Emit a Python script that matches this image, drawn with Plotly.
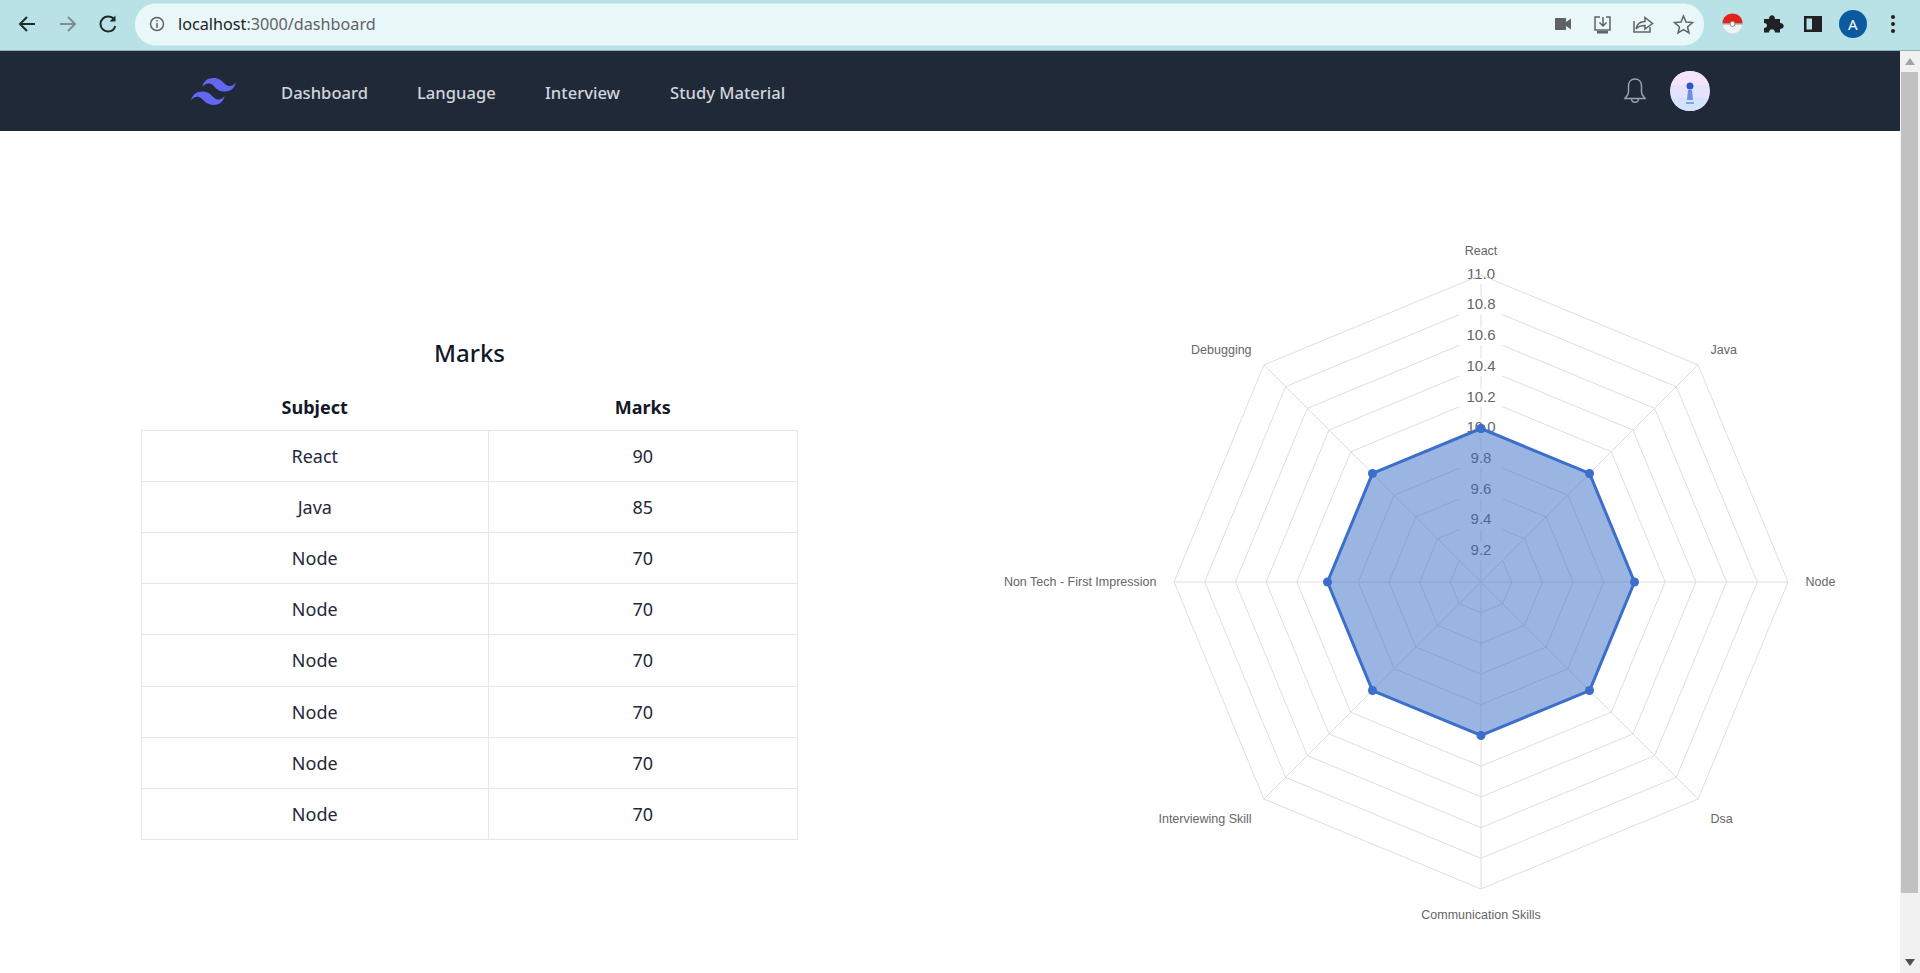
import re
import plotly.graph_objects as go

W = 1920
H = 973

subjects = ["React", "Java", "Node", "Node", "Node", "Node", "Node", "Node"]
marks = [90, 85, 70, 70, 70, 70, 70, 70]

radar_labels = ["React", "Java", "Node", "Dsa", "Communication Skills", "Interviewing Skill",
                "Non Tech - First Impression", "Debugging"]
radar_values = [10, 10, 10, 10, 10, 10, 10, 10]
radar_ticks = [9.2, 9.4, 9.6, 9.8, 10.0, 10.2, 10.4, 10.6, 10.8, 11.0]

nav_items = ["Dashboard", "Language", "Interview", "Study Material"]
nav_x = [324.5, 456.5, 582.5, 727]

TAILWIND = ("M27 0c-7.2 0-11.7 3.6-13.5 10.8 2.7-3.6 5.85-4.95 9.45-4.05 2.054.513 3.522 2.004 5.147 3.653"
            "C30.744 13.09 33.808 16.2 40.5 16.2c7.2 0 11.7-3.6 13.5-10.8-2.7 3.6-5.85 4.95-9.45 4.05"
            "-2.054-.513-3.522-2.004-5.147-3.653C36.756 3.11 33.692 0 27 0z"
            "M13.5 16.2C6.3 16.2 1.8 19.8 0 27c2.7-3.6 5.85-4.95 9.45-4.05 2.054.514 3.522 2.004 5.147 3.653"
            "C17.244 29.29 20.308 32.4 27 32.4c7.2 0 11.7-3.6 13.5-10.8-2.7 3.6-5.85 4.95-9.45 4.05"
            "-2.054-.513-3.522-2.004-5.147-3.653C23.256 19.31 20.192 16.2 13.5 16.2z")


def px(x):
    return x / W


def py(y):
    return 1 - y / H


# shapes use paper coords, so turn screen-pixel svg paths into paper fractions
def svg_path(d, ox=0, oy=0, s=1):
    toks = re.findall(r"[MmLlHhVvCcZz]|-?\d*\.?\d+", d)
    out = []
    cx = cy = 0
    i = 0
    cmd = None
    while i < len(toks):
        if toks[i].isalpha():
            cmd = toks[i]
            i += 1
            if cmd in "Zz":
                out.append("Z")
                continue
        low = cmd.lower()
        rel = cmd.islower()
        if low == "h":
            cx = float(toks[i]) + (cx if rel else 0)
            i += 1
            pts = [(cx, cy)]
            letter = "L"
        elif low == "v":
            cy = float(toks[i]) + (cy if rel else 0)
            i += 1
            pts = [(cx, cy)]
            letter = "L"
        else:
            n = 3 if low == "c" else 1
            pts = []
            for _ in range(n):
                a = float(toks[i]) + (cx if rel else 0)
                b = float(toks[i + 1]) + (cy if rel else 0)
                pts.append((a, b))
                i += 2
            cx, cy = pts[-1]
            letter = low.upper()
        coords = " ".join(f"{px(ox + a * s):.5f},{py(oy + b * s):.5f}" for a, b in pts)
        out.append(f"{letter} {coords}")
    return " ".join(out)


shapes = []


def rect(x0, y0, x1, y1, fill):
    shapes.append(dict(type="rect", xref="paper", yref="paper", x0=px(x0), x1=px(x1), y0=py(y0), y1=py(y1),
                       fillcolor=fill, line=dict(width=0)))


def circle(cx, cy, r, fill="rgba(0,0,0,0)", line=None, lw=0):
    shapes.append(dict(type="circle", xref="paper", yref="paper", x0=px(cx - r), x1=px(cx + r),
                       y0=py(cy + r), y1=py(cy - r), fillcolor=fill,
                       line=dict(color=line or "rgba(0,0,0,0)", width=lw)))


def path(d, fill="rgba(0,0,0,0)", line=None, lw=0, ox=0, oy=0, s=1):
    shapes.append(dict(type="path", xref="paper", yref="paper", path=svg_path(d, ox, oy, s), fillcolor=fill,
                       line=dict(color=line or "rgba(0,0,0,0)", width=lw)))


# browser toolbar
rect(0, 0, W, 50, "#b8e2e6")
rect(0, 50, W, 51, "#8fb4b8")
path("M156 3.5 H1683 C1695 3.5 1704 13 1704 24.5 C1704 36 1695 45.5 1683 45.5 H156 C144 45.5 135 36 135 24.5 "
     "C135 13 144 3.5 156 3.5 Z", fill="#eaf7f8")
path("M35 24H20 M27 17l-7 7 7 7", line="#1f2a2e", lw=2)
path("M60 24H75 M68 17l7 7-7 7", line="#7c8f92", lw=2)
path("M114 19 C112.5 17.2 110.5 16.5 108 16.5 C103.8 16.5 100.5 19.8 100.5 24 C100.5 28.2 103.8 31.5 108 31.5 "
     "C111.5 31.5 114.4 29.2 115.2 26", line="#1f2a2e", lw=2)
path("M115.5 15.5 V21.5 H109.5 Z", fill="#1f2a2e")
circle(157, 24, 6.5, line="#5f6368", lw=1.5)
path("M157 23 V28 M157 20 V21.5", line="#5f6368", lw=1.5)
path("M1555 18 H1566 V30 H1555 Z M1566 22 L1571 18.5 V29.5 L1566 26 Z", fill="#5f6368")
path("M1600 17 H1595 V30 H1610 V17 H1606", line="#5f6368", lw=1.5)
path("M1603 17 V26 M1599.5 22.5 L1603 26 L1606.5 22.5", line="#5f6368", lw=1.5)
path("M1597 31 H1608 V33.5 H1597 Z", fill="#5f6368")
path("M1634 21 V32 H1650 V27", line="#5f6368", lw=1.5)
path("M1636 29 C1637 24 1640 21.5 1645 21.5 V17.5 L1652.5 23.5 L1645 29 V25.5 C1641 25.5 1638 26.5 1636 29 Z",
     line="#5f6368", lw=1.5)
path("M1683.5 16 L1686 22 L1692.5 22.5 L1687.5 27 L1689 33 L1683.5 29.7 L1678 33 L1679.5 27 L1674.5 22.5 "
     "L1681 22 Z", line="#5f6368", lw=1.5)
circle(1732.5, 24, 10, fill="#f1f2f3", line="#c9ced1", lw=0.5)
path("M1722.5 23 C1722.5 17.5 1727 13.5 1732.5 13.5 C1738 13.5 1742.5 17.5 1742.5 23 Z", fill="#e2231a")
rect(1722.5, 23, 1742.5, 24.5, "#9a9a9a")
circle(1732.5, 24, 2.5, fill="#ffffff", line="#8a8a8a", lw=1)
path("M1764 19 H1769 C1769 14 1775 14 1775 19 H1780 V23 C1785 23 1785 29 1780 29 V32.5 H1775 C1775 28 1769 28 "
     "1769 32.5 H1764 V28 C1768 28 1768 23 1764 23 Z", fill="#202124")
path("M1804 16 H1822 V32 H1804 Z M1806.5 18.5 V29.5 H1812 V18.5 Z", fill="#202124")
circle(1853, 24, 14, fill="#0b5a9f")
circle(1893, 17, 2, fill="#202124")
circle(1893, 24, 2, fill="#202124")
circle(1893, 31, 2, fill="#202124")

# nav bar
rect(0, 51, 1900, 131, "#1f2937")
path(TAILWIND, fill="#6366f1", ox=191, oy=78, s=0.83)
path("M1635 79 C1631 79 1628.5 82 1628.5 86 V92 C1628.5 95 1626 97 1625 98.5 H1645 C1644 97 1641.5 95 1641.5 92 "
     "V86 C1641.5 82 1639 79 1635 79 Z M1631.5 99 C1632 103.5 1638 103.5 1638.5 99", line="#9ca3af", lw=1.5)
circle(1690, 91, 20, fill="#e4e2fd")
path("M1670.9 85 C1674 76 1681 71 1690 71 C1699 71 1706 76 1709.1 85 Z", fill="#f3e4fb")
path("M1671.3 98 C1674 106 1681 111 1690 111 C1699 111 1706 106 1708.7 98 Z", fill="#d3e2ff")
circle(1690, 86, 3.5, fill="#2f56c8")
path("M1688 90 H1692 L1693 100 H1687 Z", fill="#6d8de6")
rect(1686, 102, 1694, 104, "#8aa0e8")

# scrollbar
rect(1900, 51, W, H, "#f1f1f1")
rect(1901, 72, 1918, 893, "#c1c1c1")
path("M1910 58 L1905 65 H1915 Z", fill="#a3a3a3")
path("M1910 966 L1905 959 H1915 Z", fill="#505050")

annotations = [
    dict(text="<span style='color:#202124'>localhost</span>:3000/dashboard", x=px(176), y=py(24), xanchor="left",
         font=dict(family="Noto Sans", size=16.2, color="#5f6368")),
    dict(text="A", x=px(1853), y=py(24), font=dict(family="Noto Sans", size=15, color="#ffffff")),
    dict(text="Marks", x=px(469), y=py(353), font=dict(family="Noto Sans", size=24, color="#111827", weight=500)),
]
for label, x in zip(nav_items, nav_x):
    annotations.append(dict(text=label, x=px(x), y=py(92),
                            font=dict(family="Noto Sans", size=16.6, color="#d1d5db", weight=500)))
for a in annotations:
    a.setdefault("xanchor", "center")
    a.update(xref="paper", yref="paper", showarrow=False, yanchor="middle")

fig = go.Figure()

# the grid and the text are two tables: plotly pins cell text to the top of a row
# and the original centres it, so the text table sits a few pixels lower
fig.add_trace(go.Table(
    domain=dict(x=[px(141), px(797)], y=[py(842), py(410)]),
    columnwidth=[347.5, 308.5],
    header=dict(values=["", ""], height=20, fill_color="rgba(0,0,0,0)", line_color="rgba(0,0,0,0)"),
    cells=dict(values=[[""] * len(subjects), [""] * len(marks)], height=51.2,
               fill_color="#ffffff", line_color="#e2e8f0"),
))
fig.add_trace(go.Table(
    domain=dict(x=[px(141), px(797)], y=[py(856), py(386.5)]),
    columnwidth=[347.5, 308.5],
    header=dict(values=["<b>Subject</b>", "<b>Marks</b>"], height=54.5, align="center",
                fill_color="rgba(0,0,0,0)", line_color="rgba(0,0,0,0)",
                font=dict(family="Noto Sans", size=18, color="#111827")),
    cells=dict(values=[subjects, marks], height=51.2, align="center",
               fill_color="rgba(0,0,0,0)", line_color="rgba(0,0,0,0)",
               font=dict(family="Noto Sans", size=18, color="#1f2937")),
))

# tick labels sit under the data with a white box behind them, like the original
fig.add_trace(go.Scatterpolar(
    theta=[radar_labels[0]] * len(radar_ticks),
    r=radar_ticks,
    mode="markers+text",
    text=[f"{t:.1f}" for t in radar_ticks],
    textposition="middle center",
    textfont=dict(family="Liberation Sans", size=15, color="#666666"),
    marker=dict(symbol="line-ew", size=32, color="#ffffff", line=dict(color="#ffffff", width=18)),
    hoverinfo="skip",
    showlegend=False,
))

fig.add_trace(go.Scatterpolar(
    theta=radar_labels + radar_labels[:1],
    r=radar_values + radar_values[:1],
    mode="lines+markers",
    fill="toself",
    fillcolor="rgba(56,107,199,0.5)",
    line=dict(color="#3b6fca", width=3),
    marker=dict(color="#3b6fca", size=9),
    showlegend=False,
))

fig.update_layout(
    width=W,
    height=H,
    margin=dict(l=0, r=0, t=0, b=0),
    paper_bgcolor="#ffffff",
    shapes=shapes,
    annotations=annotations,
    polar=dict(
        domain=dict(x=[px(1481 - 307), px(1481 + 307)], y=[py(582 + 307), py(582 - 307)]),
        bgcolor="rgba(0,0,0,0)",
        gridshape="linear",
        radialaxis=dict(range=[9, 11], dtick=0.2, tick0=9, showticklabels=False, ticks="", showline=False,
                        gridcolor="#dedede", gridwidth=1),
        angularaxis=dict(categoryorder="array", categoryarray=radar_labels, direction="clockwise", rotation=90,
                         gridcolor="#dedede", gridwidth=1, linecolor="#dedede", linewidth=1,
                         ticks="outside", ticklen=14.5, tickcolor="rgba(0,0,0,0)",
                         tickfont=dict(family="Liberation Sans", size=12.5, color="#666666")),
    ),
)

fig.write_html("out.html", config=dict(displayModeBar=False),
               post_script="document.body.style.margin='0';document.body.style.overflow='hidden';")
